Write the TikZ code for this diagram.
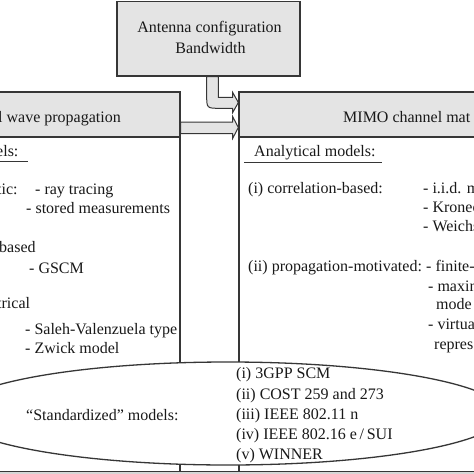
\documentclass[tikz,border=0pt]{standalone}
\usepackage{fontspec}
\setmainfont{Liberation Serif}
\usetikzlibrary{calc, positioning, shapes}

\definecolor{boxline}{HTML}{363636}
\definecolor{boxfill}{HTML}{E4E4E4}
\definecolor{bandfill}{HTML}{D6D6D6}

\tikzset{
  txt/.style={font=\fontsize{16}{20}\selectfont, inner sep=0pt, anchor=base west, text=black!90},
  hdrbox/.style={rectangle, draw=boxline, line width=1.3pt, fill=boxfill, inner sep=0pt},
  bodybox/.style={rectangle, draw=boxline, line width=1.3pt, fill=white, inner sep=0pt},
  stdellipse/.style={ellipse, draw=boxline, line width=1.3pt, fill=white, inner sep=0pt},
  blockarrow/.style={draw=boxline, line width=1pt, fill=boxfill, line join=miter},
}

\begin{document}
\begin{tikzpicture}[x=1pt,y=-1pt]
                    \useasboundingbox (0,0) rectangle (474,474);
                    \clip (0,0) rectangle (474,474);

                    % boxes
                    \node[hdrbox, minimum width=183pt, minimum height=74.5pt] (cfg) at (208.5,38.75) {};
                    \node[bodybox, minimum width=200pt, minimum height=340pt] (physbody) at (80,307) {};
                    \node[bodybox, minimum width=261pt, minimum height=340pt] (mimobody) at (369.5,307) {};
                    \node[hdrbox, minimum width=200pt, minimum height=45pt] (physhdr) at (80,114.5) {};
                    \node[hdrbox, minimum width=261pt, minimum height=45pt] (mimohdr) at (369.5,114.5) {};
                    \node[hdrbox, fill=bandfill, minimum width=520pt, minimum height=28.5pt] (lowerbox) at (240,485.75) {};
                    \node[stdellipse, minimum width=552pt, minimum height=103pt] (std) at (228,413.5) {};

                    % arrows
                    \draw[blockarrow] ($(cfg.south)+(-1.8,0)$) -- (206.7,95) .. controls (206.7,108.3) .. (220,108.3)
                        -- (232.7,108.3) -- (232.7,112.5) -- (mimohdr.west |- 0,102.5) -- (232.7,92.5)
                        -- (232.7,97.3) -- (218.3,97.3) -- ($(cfg.south)+(9.8,0)$) -- cycle;
                    \draw[blockarrow] (physhdr.east |- 0,122) -- (232.7,122) -- (232.7,116.7) -- (mimohdr.west |- 0,127.5)
                        -- (232.7,138.3) -- (232.7,133.5) -- (physhdr.east |- 0,133.5) -- cycle;

                    % top box
                    \node[txt, anchor=base] (cfgant) at (209.5,32.5) {Antenna configuration};
                    \node[txt, anchor=base] (cfgbw) at (210.5,53) {Bandwidth};

                    % left column
                    \node[txt] (physttl) at (-2,122) {l wave propagation};
                    \node[txt] (physmod) at (-4,156) {els:};
                    \draw[boxline, line width=0.9pt] (-5,161.7) -- (28,161.7);
                    \node[txt] (detm) at (-3,194) {tic:};
                    \node[txt] (rayt) at (35,194) {- ray tracing};
                    \node[txt] (stor) at (26,213) {- stored measurements};
                    \node[txt] (geom) at (-1,252) {based};
                    \node[txt] (gscm) at (29,273) {- GSCM};
                    \node[txt] (ngeo) at (-3,308) {trical};
                    \node[txt] (saleh) at (25,334) {- Saleh-Valenzuela type};
                    \node[txt] (zwick) at (25,353) {- Zwick model};

                    % right column
                    \node[txt] (mimottl) at (343,122) {MIMO channel mat};
                    \node[txt] (anamod) at (254,156) {Analytical models:};
                    \draw[boxline, line width=0.9pt] (244,162.7) -- (382,162.7);
                    \node[txt] (corr) at (248,193) {(i) correlation-based:};
                    \node[txt] (iid) at (423,193) {- i.i.d. m};
                    \node[txt] (kron) at (423,212) {- Kronec};
                    \node[txt] (weich) at (423,231) {- Weichs};
                    \node[txt] (prop) at (248,271) {(ii) propagation-motivated:};
                    \node[txt] (fini) at (426,271) {- finite-};
                    \node[txt] (maxe) at (428,291) {- maxim};
                    \node[txt] (maxm) at (436,309) {mode};
                    \node[txt] (virt) at (428,329) {- virtua};
                    \node[txt] (repr) at (434,349) {repres};

                    % standardized models
                    \node[txt] (stdttl) at (26,420) {“Standardized” models:};
                    \foreach \t [count=\i] in {(i) 3GPP SCM, (ii) COST 259 and 273, (iii) IEEE 802.11 n,
                                               (iv) IEEE 802.16 e\,/\,SUI, (v) WINNER}
                        \node[txt] (stditem\i) at (236,358.7+20.25*\i) {\t};
                \end{tikzpicture}
\end{document}
